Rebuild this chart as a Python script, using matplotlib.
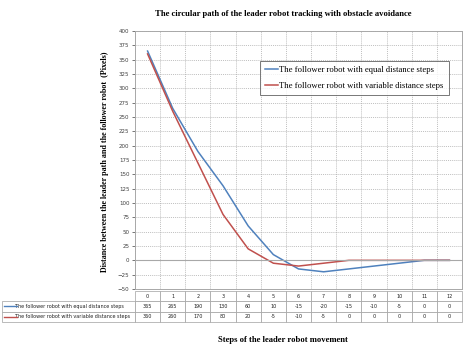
import matplotlib.pyplot as plt
import numpy as np
from matplotlib.lines import Line2D

steps = list(range(13))
equal_steps = [365, 265, 190, 130, 60, 10, -15, -20, -15, -10, -5, 0, 0]
variable_steps = [360, 260, 170, 80, 20, -5, -10, -5, 0, 0, 0, 0, 0]
name_equal = "The follower robot with equal distance steps"
name_variable = "The follower robot with variable distance steps"

blue = "#4f81bd"
red = "#c0504d"
serif = ["Liberation Serif", "DejaVu Serif"]

fig = plt.figure(figsize=(4.74, 3.53), dpi=100)
ax = fig.add_axes([135 / 474, 1 - 289 / 353, 327 / 474, 258 / 353])

x = np.arange(len(steps))
ax.plot(x, equal_steps, color=blue, lw=1.1, label=name_equal)
ax.plot(x, variable_steps, color=red, lw=1.1, label=name_variable)

ax.set_xlim(-0.5, len(steps) - 0.5)
ax.set_ylim(-50, 400)
ax.set_yticks(np.arange(-50, 401, 25))
ax.set_xticks(np.arange(-0.5, len(steps), 1))
ax.set_xticklabels([])
ax.tick_params(axis="x", length=0)
ax.tick_params(axis="y", labelsize=4, length=2, width=0.5, colors="#404040", pad=2)
ax.grid(True, ls=(0, (1.5, 1.5)), lw=0.5, color="#a8a8a8")
ax.axhline(0, color="#a8a8a8", lw=0.8)
for s in ax.spines.values():
    s.set_color("#a8a8a8")
    s.set_linewidth(0.7)

leg = ax.legend(loc="upper right", bbox_to_anchor=(0.972, 0.902), prop={"family": serif, "size": 6.2},
                frameon=True, fancybox=False, handlelength=1.5, handletextpad=0.1,
                labelspacing=0.9, borderpad=0.6, edgecolor="#555555")
leg.get_frame().set_linewidth(0.7)

# data table under the plot
rows = [[""] + [str(s) for s in steps],
        ["        " + name_equal] + [str(v) for v in equal_steps],
        ["        " + name_variable] + [str(v) for v in variable_steps]]
label_w = 133 / 327
col_w = 1 / 13
tab = ax.table(cellText=rows, colWidths=[label_w] + [col_w] * 13, cellLoc="center",
               bbox=[-label_w, -0.128, 1 + label_w, 0.12])
tab.auto_set_font_size(False)
tab.set_fontsize(3.5)
for (r, c), cell in tab.get_celld().items():
    cell.set_edgecolor("#a0a0a0")
    cell.set_linewidth(0.5)
    cell.get_text().set_color("#202020")
    if c == 0:
        cell.get_text().set_ha("left")
        cell.PAD = 0.01
    if r == 0 and c == 0:
        cell.visible_edges = ""

fig.add_artist(Line2D([4 / 474, 17 / 474], [1 - 305.5 / 353] * 2, color=blue, lw=1))
fig.add_artist(Line2D([4 / 474, 17 / 474], [1 - 316.5 / 353] * 2, color=red, lw=1))

fig.text(283 / 474, 1 - 14 / 353, "The circular path of the leader robot tracking with obstacle avoidance",
         ha="center", va="center", family=serif, weight="bold", size=6.2)
fig.text(283 / 474, 1 - 340 / 353, "Steps of the leader robot movement",
         ha="center", va="center", family=serif, weight="bold", size=6.2)
fig.text(105 / 474, 1 - 162 / 353, "Distance between the leader path and the follower robot  (Pixels)",
         ha="center", va="center", rotation=90, family=serif, weight="bold", size=5.8)

fig.savefig("out.png", dpi=100)
